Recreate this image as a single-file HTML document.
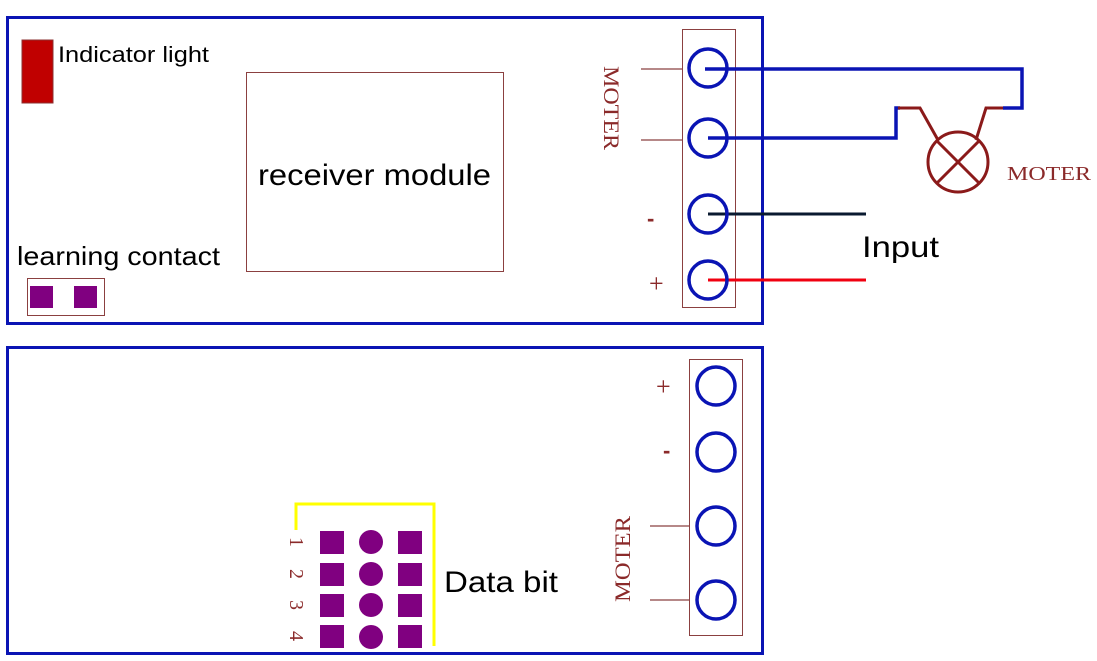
<!DOCTYPE html>
<html><head><meta charset="utf-8"><style>html,body{margin:0;padding:0;background:#fff}svg{display:block}</style></head>
<body>
<svg width="1097" height="661" viewBox="0 0 1097 661" xmlns="http://www.w3.org/2000/svg">
<g fill="none" stroke="#0a14b4" stroke-width="3">
<rect x="7.5" y="17.5" width="755" height="306"/>
<rect x="7.5" y="347.5" width="755" height="306"/>
</g>
<rect x="22" y="40" width="31" height="63" fill="#c00000" stroke="#8b3030" stroke-width="1"/>
<text x="58" y="62" font-family="Liberation Sans, sans-serif" font-size="22" textLength="151" lengthAdjust="spacingAndGlyphs" fill="#000">Indicator light</text>
<rect x="246.5" y="72.5" width="257" height="199" fill="none" stroke="#8b4040" stroke-width="1"/>
<text x="258" y="185" font-family="Liberation Sans, sans-serif" font-size="30" textLength="233" lengthAdjust="spacingAndGlyphs" fill="#000">receiver module</text>
<text x="17" y="265" font-family="Liberation Sans, sans-serif" font-size="26" textLength="203" lengthAdjust="spacingAndGlyphs" fill="#000">learning contact</text>
<rect x="27.5" y="278.5" width="77" height="37" fill="none" stroke="#8b4040" stroke-width="1"/>
<rect x="30" y="286" width="23" height="22" fill="#800080"/>
<rect x="74" y="286" width="23" height="22" fill="#800080"/>
<!-- top terminal -->
<rect x="682.5" y="29.5" width="53" height="278" fill="none" stroke="#8b4040" stroke-width="1"/>
<g stroke="#8b4040" stroke-width="1.2"><line x1="641" y1="69" x2="682" y2="69"/><line x1="641" y1="140" x2="682" y2="140"/></g>
<text transform="translate(604,66) rotate(90)" font-family="Liberation Serif, serif" font-size="22" textLength="84" lengthAdjust="spacingAndGlyphs" fill="#8b2a2a">MOTER</text>
<text x="647" y="226" font-family="Liberation Sans, sans-serif" font-size="22" font-weight="bold" fill="#8b2a2a">-</text>
<text x="649" y="292" font-family="Liberation Serif, serif" font-size="26" fill="#8b2a2a">+</text>
<g fill="none" stroke="#0a14b4" stroke-width="3.5">
<polyline points="705,69 1022,69 1022,108 1003,108"/>
<polyline points="708,138 896,138 896,108 900,108"/>
</g>
<g fill="none" stroke="#8b1a1a" stroke-width="3">
<polyline points="898,108 920,108 938,140"/>
<polyline points="1003,108 986,108 976,140"/>
<circle cx="958" cy="162" r="30"/>
<line x1="937" y1="141" x2="979" y2="183"/><line x1="979" y1="141" x2="937" y2="183"/>
</g>
<text x="1007" y="180" font-family="Liberation Serif, serif" font-size="20" textLength="84" lengthAdjust="spacingAndGlyphs" fill="#8b2a2a">MOTER</text>
<line x1="708" y1="214" x2="866" y2="214" stroke="#0a1a30" stroke-width="3"/>
<line x1="708" y1="280" x2="866" y2="280" stroke="#f00010" stroke-width="3"/>
<text x="862" y="257" font-family="Liberation Sans, sans-serif" font-size="30" textLength="77" lengthAdjust="spacingAndGlyphs" fill="#000">Input</text>
<g fill="none" stroke="#0a14b4" stroke-width="3.5">
<circle cx="708" cy="68" r="19"/><circle cx="708" cy="138" r="19"/><circle cx="708" cy="214" r="19"/><circle cx="708" cy="280" r="19"/>
</g>
<!-- bottom terminal -->
<rect x="689.5" y="359.5" width="53" height="276" fill="none" stroke="#8b4040" stroke-width="1"/>
<g stroke="#8b4040" stroke-width="1.2"><line x1="650" y1="526" x2="690" y2="526"/><line x1="650" y1="600" x2="690" y2="600"/></g>
<text transform="translate(630,602) rotate(-90)" font-family="Liberation Serif, serif" font-size="22" textLength="86" lengthAdjust="spacingAndGlyphs" fill="#8b2a2a">MOTER</text>
<text x="656" y="395" font-family="Liberation Serif, serif" font-size="26" fill="#8b2a2a">+</text>
<text x="663" y="458" font-family="Liberation Sans, sans-serif" font-size="22" font-weight="bold" fill="#8b2a2a">-</text>
<g fill="none" stroke="#0a14b4" stroke-width="3.5">
<circle cx="716" cy="386" r="19"/><circle cx="716" cy="452" r="19"/><circle cx="716" cy="526" r="19"/><circle cx="716" cy="600" r="19"/>
</g>
<polyline points="296,530 296,504 434,504 434,646" fill="none" stroke="#ffff00" stroke-width="3"/>
<g fill="#800080">
<rect x="320" y="531" width="24" height="23"/><circle cx="371" cy="542" r="12"/><rect x="398" y="531" width="24" height="23"/>
<rect x="320" y="563" width="24" height="23"/><circle cx="371" cy="574" r="12"/><rect x="398" y="563" width="24" height="23"/>
<rect x="320" y="594" width="24" height="23"/><circle cx="371" cy="605" r="12"/><rect x="398" y="594" width="24" height="23"/>
<rect x="320" y="625" width="24" height="23"/><circle cx="371" cy="637" r="12"/><rect x="398" y="625" width="24" height="23"/>
</g>
<g font-family="Liberation Serif, serif" font-size="20" fill="#8b2a2a">
<text transform="translate(290,537) rotate(90)">1</text>
<text transform="translate(290,569) rotate(90)">2</text>
<text transform="translate(290,600) rotate(90)">3</text>
<text transform="translate(290,631) rotate(90)">4</text>
</g>
<text x="444" y="592" font-family="Liberation Sans, sans-serif" font-size="30" textLength="114" lengthAdjust="spacingAndGlyphs" fill="#000">Data bit</text>
</svg>
</body></html>
